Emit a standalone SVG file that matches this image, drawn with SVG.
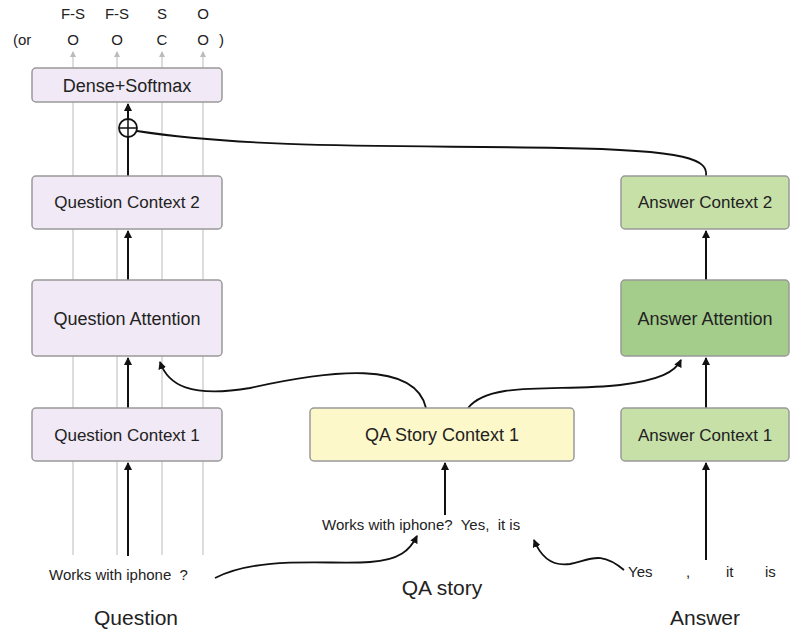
<svg xmlns="http://www.w3.org/2000/svg" width="804" height="641" viewBox="0 0 804 641">
<style>
text{font-family:"Liberation Sans",Arial,sans-serif;fill:#222;white-space:pre}
.q{fill:#f1e9f5;stroke:#999;stroke-width:1.5}
.s{fill:#fdf8c9;stroke:#999;stroke-width:1.5}
.a{fill:#c6e0a8;stroke:#999;stroke-width:1.5}
.aa{fill:#a4cd8b;stroke:#999;stroke-width:1.5}
.g{stroke:#bbb;stroke-width:1;fill:none}
.k{stroke:#111;stroke-width:2;fill:none}
.c{stroke:#111;stroke-width:1.8;fill:none}
</style>
<defs>
<marker id="ar" markerWidth="8" markerHeight="8" refX="7" refY="4" orient="auto" markerUnits="userSpaceOnUse" viewBox="0 0 8 8"><path d="M0,0 L8,4 L0,8 z" fill="#111"/></marker>
<marker id="ag" markerWidth="6" markerHeight="6" refX="5" refY="3" orient="auto" markerUnits="userSpaceOnUse" viewBox="0 0 6 6"><path d="M0,0 L6,3 L0,6 z" fill="#bbb"/></marker>
</defs>
<g id="connectors">
<path class="g" d="M73,555 V52" marker-end="url(#ag)"/>
<path class="g" d="M117,555 V52" marker-end="url(#ag)"/>
<path class="g" d="M162,555 V52" marker-end="url(#ag)"/>
<path class="g" d="M203,555 V52" marker-end="url(#ag)"/>
<path class="k" d="M128,556 V463" marker-end="url(#ar)"/>
<path class="k" d="M128,408 V358" marker-end="url(#ar)"/>
<path class="k" d="M128,280 V231" marker-end="url(#ar)"/>
<path class="k" d="M128,176 V104" marker-end="url(#ar)"/>
<path class="k" d="M445,515 V463" marker-end="url(#ar)"/>
<path class="k" d="M706,560 V463" marker-end="url(#ar)"/>
<path class="k" d="M706,408 V358" marker-end="url(#ar)"/>
<path class="k" d="M706,280 V231" marker-end="url(#ar)"/>
<path class="c" d="M137,131 C260,150 420,145 560,148 C690,150 708,160 706,176"/>
<path class="c" d="M426,408 C415,360 330,370 250,388 C190,398 168,385 160,362" marker-end="url(#ar)"/>
<path class="c" d="M468,408 C490,380 560,392 620,385 C660,380 675,372 681,360" marker-end="url(#ar)"/>
<path class="c" d="M215,578 C260,555 330,565 370,562 C400,560 410,550 417,536" marker-end="url(#ar)"/>
<path class="c" d="M624,570 C600,550 590,560 570,564 C550,567 540,555 534,540" marker-end="url(#ar)"/>
</g>
<g id="plus"><circle cx="128" cy="128" r="9" fill="#fff" stroke="#111" stroke-width="1.8"/><path d="M119,128 H137 M128,119 V137" stroke="#111" stroke-width="1.5"/></g>
<g id="dense"><rect class="q" x="32" y="68" width="190" height="34" rx="4"/><text x="127" y="92" font-size="18" text-anchor="middle">Dense+Softmax</text></g>
<g id="qc2"><rect class="q" x="32" y="176" width="190" height="53" rx="4"/><text x="127" y="208" font-size="17" text-anchor="middle">Question Context 2</text></g>
<g id="qatt"><rect class="q" x="32" y="280" width="190" height="76" rx="4"/><text x="127" y="325" font-size="18" text-anchor="middle">Question Attention</text></g>
<g id="qc1"><rect class="q" x="32" y="408" width="190" height="53" rx="4"/><text x="127" y="441" font-size="17" text-anchor="middle">Question Context 1</text></g>
<g id="sc1"><rect class="s" x="310" y="408" width="264" height="53" rx="4"/><text x="442" y="441" font-size="18" text-anchor="middle">QA Story Context 1</text></g>
<g id="ac1"><rect class="a" x="621" y="408" width="168" height="53" rx="4"/><text x="705" y="441" font-size="17" text-anchor="middle">Answer Context 1</text></g>
<g id="aatt"><rect class="aa" x="621" y="280" width="168" height="76" rx="4"/><text x="705" y="325" font-size="18" text-anchor="middle">Answer Attention</text></g>
<g id="ac2"><rect class="a" x="621" y="176" width="168" height="53" rx="4"/><text x="705" y="208" font-size="17" text-anchor="middle">Answer Context 2</text></g>
<g id="labels">
<text x="73" y="19" text-anchor="middle" font-size="15">F-S</text>
<text x="117" y="19" text-anchor="middle" font-size="15">F-S</text>
<text x="162" y="19" text-anchor="middle" font-size="15">S</text>
<text x="203" y="19" text-anchor="middle" font-size="15">O</text>
<text x="13" y="45" font-size="15">(or</text>
<text x="73" y="45" text-anchor="middle" font-size="15">O</text>
<text x="117" y="45" text-anchor="middle" font-size="15">O</text>
<text x="162" y="45" text-anchor="middle" font-size="15">C</text>
<text x="203" y="45" text-anchor="middle" font-size="15">O</text>
<text x="219" y="45" font-size="15">)</text>
<text x="49" y="580" font-size="15">Works with iphone  ?</text>
<text x="322" y="530" font-size="15">Works with iphone?  Yes,  it is</text>
<text x="628" y="577" font-size="15">Yes</text>
<text x="686" y="577" font-size="15">,</text>
<text x="726" y="577" font-size="15">it</text>
<text x="765" y="577" font-size="15">is</text>
<text x="442" y="595" text-anchor="middle" font-size="21">QA story</text>
<text x="136" y="625" text-anchor="middle" font-size="21">Question</text>
<text x="705" y="625" text-anchor="middle" font-size="21">Answer</text>
</g>
</svg>
